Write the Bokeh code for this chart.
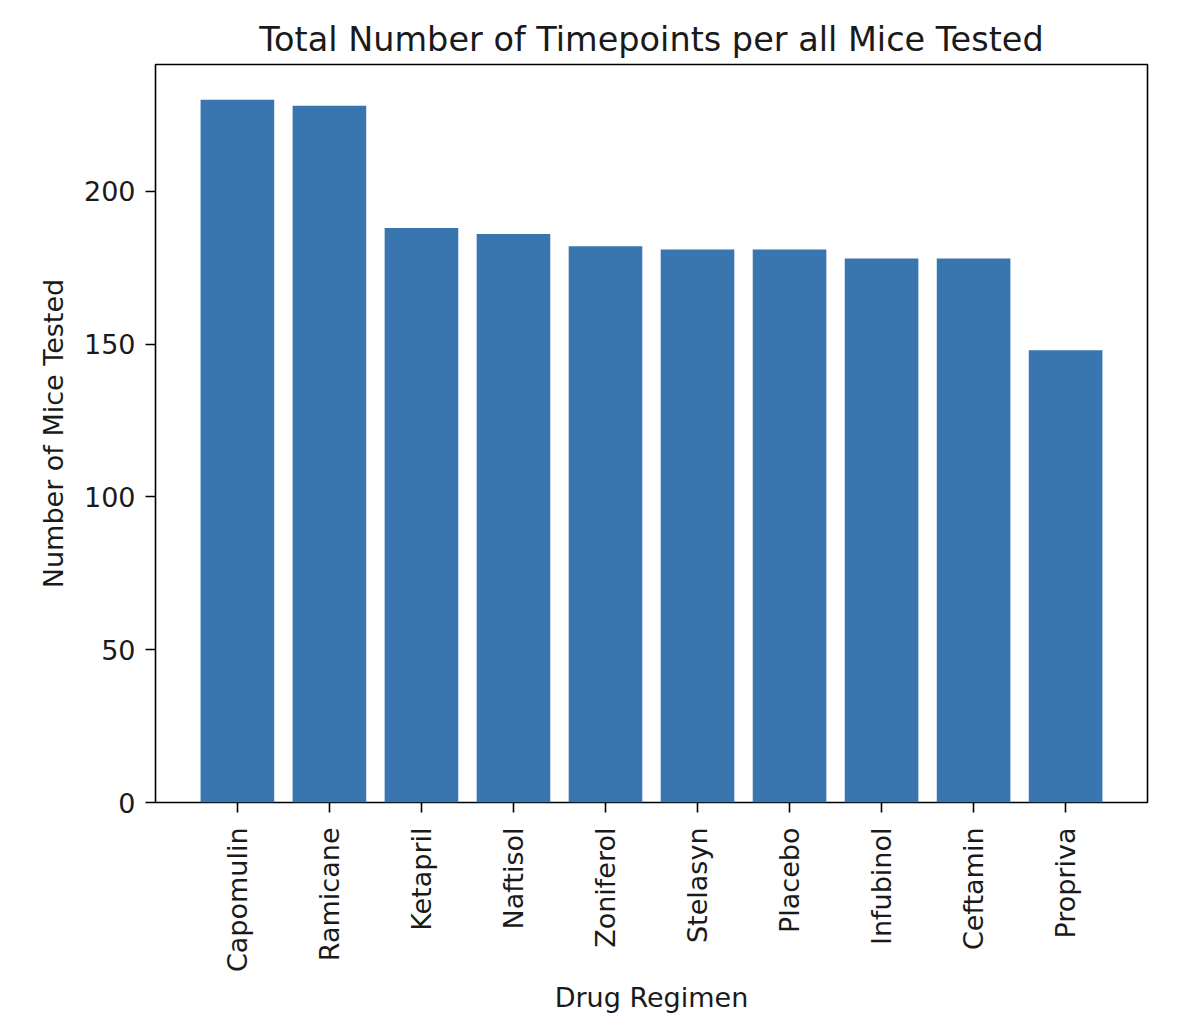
import math
from bokeh.plotting import figure
from bokeh.models import Range1d, FixedTicker, ColumnDataSource
from bokeh.embed import file_html
from bokeh.resources import INLINE

regimens = ["Capomulin", "Ramicane", "Ketapril", "Naftisol", "Zoniferol",
            "Stelasyn", "Placebo", "Infubinol", "Ceftamin", "Propriva"]
timepoints = [230, 228, 188, 186, 182, 181, 181, 178, 178, 148]
y_ticks = [0, 50, 100, 150, 200]

xs = list(range(len(regimens)))
src = ColumnDataSource(dict(x=xs, top=timepoints, name=regimens))

FONT = "DejaVu Sans"
TXT = "#1a1a1a"

p = figure(width=1172, height=1026, output_backend="svg", toolbar_location=None,
           x_range=Range1d(-0.89, len(regimens) - 1 + 0.89),
           y_range=Range1d(0, max(timepoints) * 1.05),
           min_border_left=155, min_border_right=25,
           min_border_top=64, min_border_bottom=224,
           title="Total Number of Timepoints per all Mice Tested")

p.vbar(x="x", top="top", width=0.8, source=src,
       fill_color="#3976AF", line_color=None)

p.title.text_font = FONT
p.title.text_font_size = "33.5px"
p.title.text_font_style = "normal"
p.title.text_color = TXT
p.title.align = "center"
p.title.standoff = 12

p.xgrid.visible = False
p.ygrid.visible = False
p.outline_line_color = "black"
p.outline_line_width = 1.6
p.background_fill_color = "white"
p.border_fill_color = "white"

p.xaxis.ticker = FixedTicker(ticks=xs)
p.xaxis.major_label_overrides = {i: n for i, n in zip(xs, regimens)}
p.xaxis.major_label_orientation = math.pi / 2
p.yaxis.ticker = FixedTicker(ticks=y_ticks)

for ax in (p.xaxis, p.yaxis):
    ax.axis_line_color = None
    ax.major_tick_line_color = "black"
    ax.major_tick_line_width = 1.6
    ax.major_tick_out = 10
    ax.major_tick_in = 0
    ax.minor_tick_line_color = None
    ax.major_label_standoff = 10
    ax.major_label_text_font = FONT
    ax.major_label_text_font_size = "27px"
    ax.major_label_text_color = TXT
    ax.axis_label_text_font = FONT
    ax.axis_label_text_font_size = "27px"
    ax.axis_label_text_font_style = "normal"
    ax.axis_label_text_color = TXT
    ax.axis_label_standoff = 12

p.xaxis.major_label_standoff = 15
p.xaxis.axis_label_standoff = 7

p.xaxis.axis_label = "Drug Regimen"
p.yaxis.axis_label = "Number of Mice Tested"

open("out.html", "w").write(file_html(p, INLINE))
